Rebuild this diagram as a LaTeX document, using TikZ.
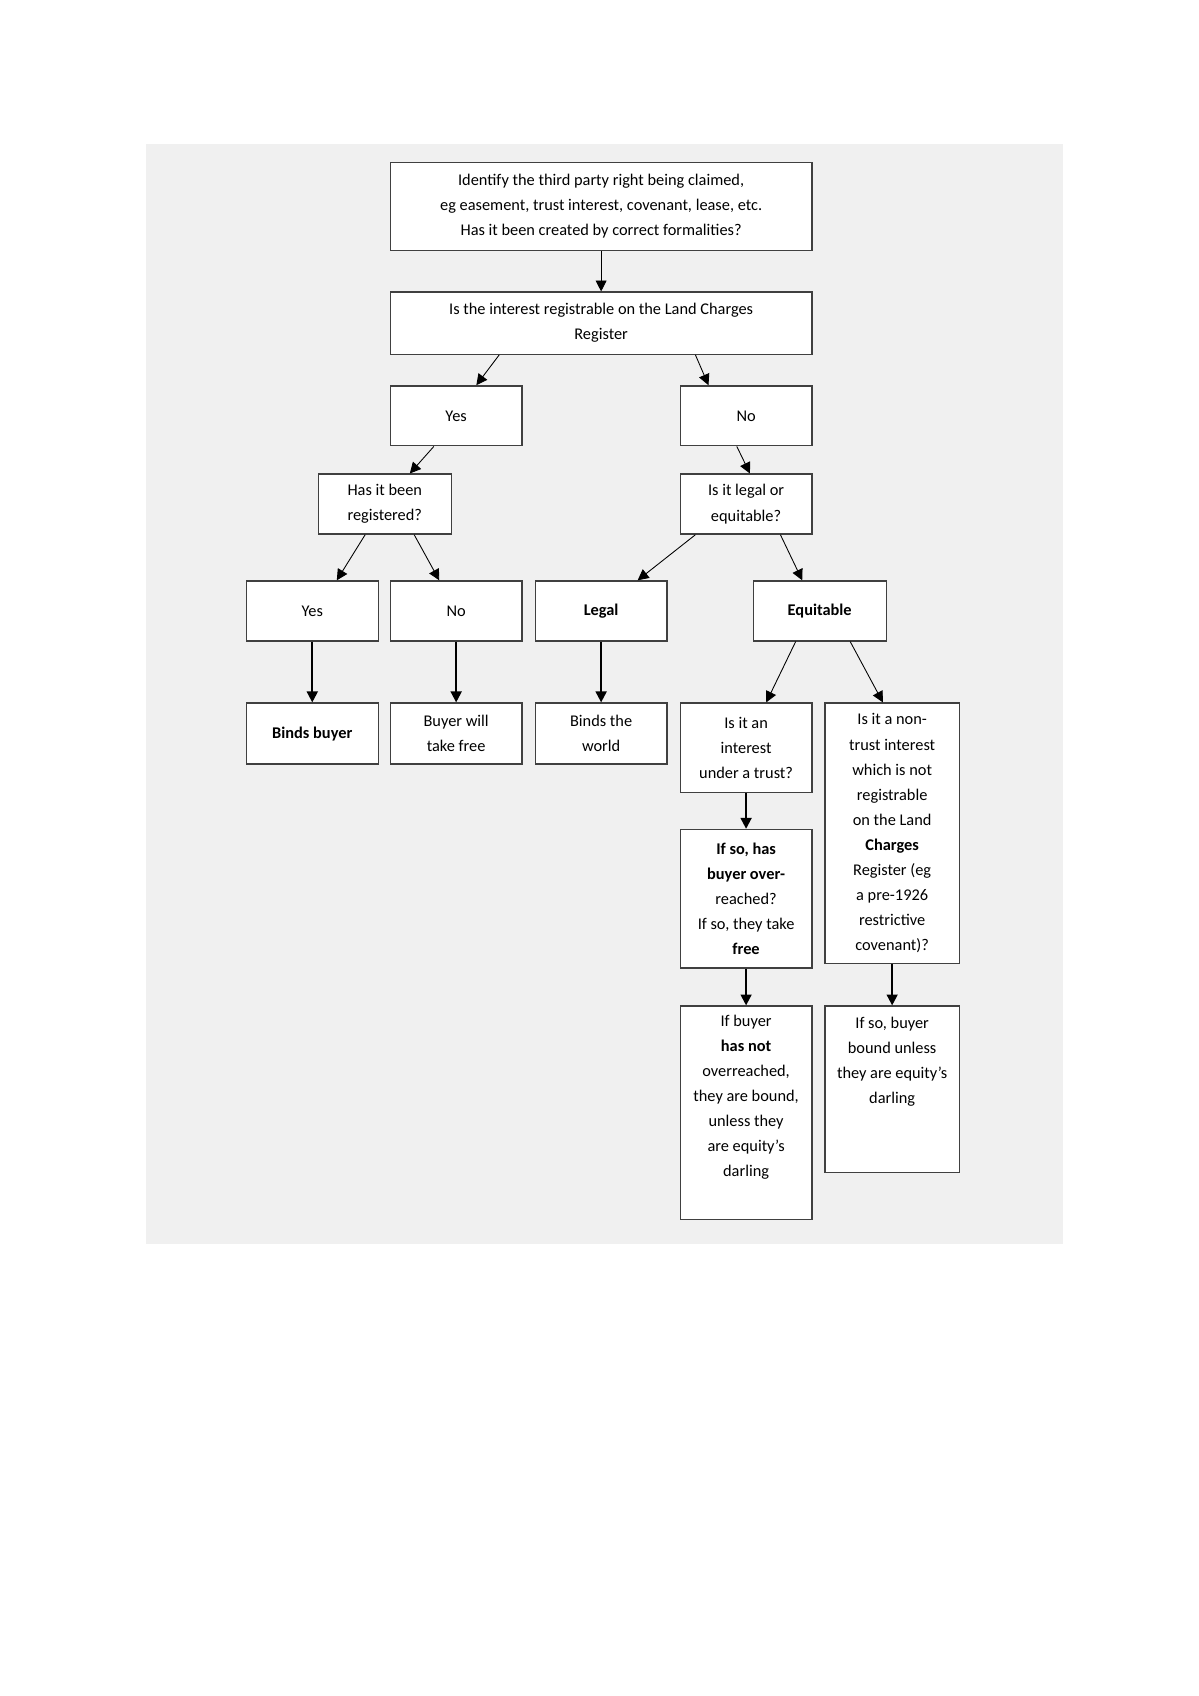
\documentclass[tikz,border=0pt]{standalone}
\usepackage{fontspec}
\setmainfont{Carlito}
\usetikzlibrary{arrows.meta}
\begin{document}
\begin{tikzpicture}[x=0.5pt,y=-0.5pt,
  box/.style={draw=black!75,line width=0.6pt,fill=white,align=center,inner sep=1pt,
    font=\fontsize{7.5}{11.5}\selectfont},
  arr/.style={line width=0.4pt,-{Triangle[length=5pt,width=5pt]}},
  varr/.style={line width=0.9pt,-{Triangle[length=5pt,width=5pt]}}]
\useasboundingbox (0,0) rectangle (1100,1556);
\fill[white] (0,0) rectangle (1100,1556);
\fill[black!6] (134,132) rectangle (975,1141);
\node[box,minimum width=193.5pt,minimum height=40.5pt] (top) at (551.5,189.5)
 {Identify the third party right being claimed,\\eg easement, trust interest, covenant, lease, etc.\\Has it been created by correct formalities?};
\node[box,minimum width=193.5pt,minimum height=28.5pt] (reg) at (551.5,296.5)
 {Is the interest registrable on the Land Charges\\Register};
\node[box,minimum width=60.5pt,minimum height=27.5pt] (yes1) at (418.5,381.5) {Yes};
\node[box,minimum width=60.5pt,minimum height=27.5pt] (no1) at (684.5,381.5) {No};
\node[box,minimum width=61pt,minimum height=27.5pt] (has) at (353,462.5) {Has it been\\registered?};
\node[box,minimum width=60.5pt,minimum height=27.5pt] (legeq) at (684.5,462.5) {Is it legal or\\equitable?};
\node[box,minimum width=60.5pt,minimum height=27.5pt] (yes2) at (286.5,560.5) {Yes};
\node[box,minimum width=60.5pt,minimum height=27.5pt] (no2) at (418.5,560.5) {No};
\node[box,minimum width=60.5pt,minimum height=27.5pt] (legal) at (551.5,560.5) {\textbf{Legal}};
\node[box,minimum width=61pt,minimum height=27.5pt] (equit) at (752,560.5) {\textbf{Equitable}};
\node[box,minimum width=60.5pt,minimum height=28pt] (bb) at (286.5,673) {\textbf{Binds buyer}};
\node[box,minimum width=60.5pt,minimum height=28pt] (bf) at (418.5,673) {Buyer will\\take free};
\node[box,minimum width=60.5pt,minimum height=28pt] (bw) at (551.5,673) {Binds the\\world};
\node[box,minimum width=60.5pt,minimum height=41pt] (trust) at (684.5,686) {Is it an\\interest\\under a trust?};
\node[box,minimum width=61.5pt,minimum height=119.5pt] (nontrust) at (818.5,764.5)
 {Is it a non-\\trust interest\\which is not\\registrable\\on the Land\\\textbf{Charges}\\Register (eg\\a pre-1926\\restrictive\\covenant)?};
\node[box,minimum width=60.5pt,minimum height=63.5pt] (over) at (684.5,824.5)
 {\textbf{If so, has}\\\textbf{buyer over-}\\reached?\\If so, they take\\\textbf{free}};
\node[box,minimum width=60.5pt,minimum height=98pt,inner sep=0pt] (ifbuyer) at (684.5,1021)
 {\parbox[c][98pt][t]{60pt}{\centering\vspace{4pt}If buyer\\\textbf{has not}\\overreached,\\they are bound,\\unless they\\are equity's\\darling}};
\node[box,minimum width=61.5pt,minimum height=76.5pt,inner sep=0pt] (ifso) at (818.5,999.5)
 {\parbox[c][76.5pt][t]{61pt}{\centering\vspace{5pt}If so, buyer\\bound unless\\they are equity's\\darling}};
\draw[arr] (top) -- (reg);
\draw[arr] ([xshift=-46.75pt]reg.south) -- ([xshift=9.25pt]yes1.north);
\draw[arr] ([xshift=43.25pt]reg.south) -- ([xshift=-17.25pt]no1.north);
\draw[arr] ([xshift=-10.25pt]yes1.south) -- ([xshift=11.5pt]has.north);
\draw[arr] ([xshift=-4.25pt]no1.south) -- ([xshift=1.75pt]legeq.north);
\draw[arr] ([xshift=-9pt]has.south) -- ([xshift=11.25pt]yes2.north);
\draw[arr] ([xshift=13.5pt]has.south) -- ([xshift=-7.75pt]no2.north);
\draw[arr] ([xshift=-23.25pt]legeq.south) -- ([xshift=16.75pt]legal.north);
\draw[arr] ([xshift=15.75pt]legeq.south) -- ([xshift=-8pt]equit.north);
\draw[varr] (yes2) -- (bb);
\draw[varr] (no2) -- (bf);
\draw[varr] (legal) -- (bw);
\draw[arr] ([xshift=-11pt]equit.south) -- ([xshift=9.25pt]trust.north);
\draw[arr] ([xshift=14pt]equit.south) -- ([xshift=-4.25pt]nontrust.north);
\draw[varr] (trust) -- (over);
\draw[varr] (over) -- (ifbuyer);
\draw[varr] (nontrust) -- (ifso);
\end{tikzpicture}
\end{document}
